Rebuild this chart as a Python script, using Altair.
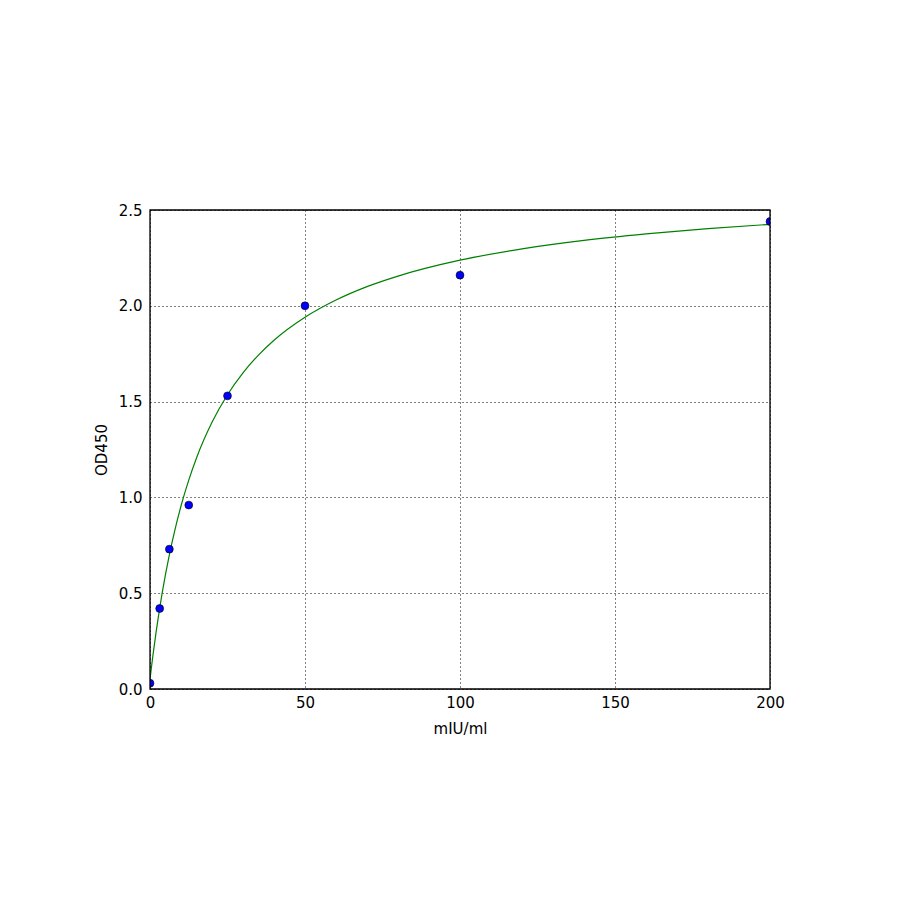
import altair as alt
import pandas as pd

# measured standards
conc = [0, 3.125, 6.25, 12.5, 25, 50, 100, 200]
od = [0.03, 0.42, 0.73, 0.96, 1.53, 2.00, 2.16, 2.44]

# fitted curve
curve_x = [0, 0.5, 1, 2, 3, 4, 5, 6, 8, 10, 12.5, 15, 20, 25, 30, 35, 40, 50,
           60, 70, 80, 100, 120, 140, 160, 180, 200]
curve_y = [0.05, 0.118, 0.182, 0.301, 0.409, 0.508, 0.598, 0.681, 0.828, 0.955,
           1.090, 1.206, 1.392, 1.536, 1.650, 1.743, 1.820, 1.940, 2.030, 2.100,
           2.155, 2.238, 2.297, 2.341, 2.375, 2.403, 2.425]

x_ticks = [0, 50, 100, 150, 200]
y_ticks = [0.0, 0.5, 1.0, 1.5, 2.0, 2.5]
x_range = [0, 200]
y_range = [0, 2.5]

pts = pd.DataFrame({"x": conc, "y": od})
crv = pd.DataFrame({"x": curve_x, "y": curve_y})
frame = pd.DataFrame({"x": [x_range[0]], "x2": [x_range[1]],
                      "y": [y_range[0]], "y2": [y_range[1]]})

FONT = "DejaVu Sans"

xs = alt.Scale(domain=x_range, nice=False)
ys = alt.Scale(domain=y_range, nice=False)

xax = alt.Axis(values=x_ticks, format="d", title="mIU/ml", grid=True,
               gridDash=[1, 3], gridColor="black", gridOpacity=1, gridWidth=1,
               ticks=False, labelPadding=6, domain=False, labelFlush=False,
               labelFontSize=15, titleFontSize=15, titleFontWeight="normal",
               labelFont=FONT, titleFont=FONT, labelColor="black", titleColor="black",
               titlePadding=11)
yax = alt.Axis(values=y_ticks, format=".1f", title="OD450", grid=True,
               gridDash=[1, 3], gridColor="black", gridOpacity=1, gridWidth=1,
               ticks=False, labelPadding=8, domain=False, labelFlush=False,
               labelFontSize=15, titleFontSize=15, titleFontWeight="normal",
               labelFont=FONT, titleFont=FONT, labelColor="black", titleColor="black",
               titlePadding=9)

line = alt.Chart(crv).mark_line(color="#008000", strokeWidth=1.2, clip=True,
                                interpolate="monotone").encode(
    x=alt.X("x:Q", scale=xs, axis=xax),
    y=alt.Y("y:Q", scale=ys, axis=yax),
)

dots = alt.Chart(pts).mark_point(filled=True, shape="circle", size=62,
                                 fill="#0000ff", fillOpacity=1,
                                 stroke="black", strokeWidth=0.6, clip=True).encode(
    x=alt.X("x:Q", scale=xs),
    y=alt.Y("y:Q", scale=ys),
)

border = alt.Chart(frame).mark_rect(fill=None, fillOpacity=0, stroke="black",
                                    strokeWidth=1.3).encode(
    x=alt.X("x:Q", scale=xs), x2="x2:Q",
    y=alt.Y("y:Q", scale=ys), y2="y2:Q",
)

chart = alt.layer(line, dots, border).properties(
    width=620, height=479,
    autosize=alt.AutoSizeParams(type="none"),
    padding={"left": 142, "top": 202, "right": 120, "bottom": 190},
).configure_view(stroke=None).configure(background="white")

chart.save("out.html", embed_options={"renderer": "svg", "actions": False})
